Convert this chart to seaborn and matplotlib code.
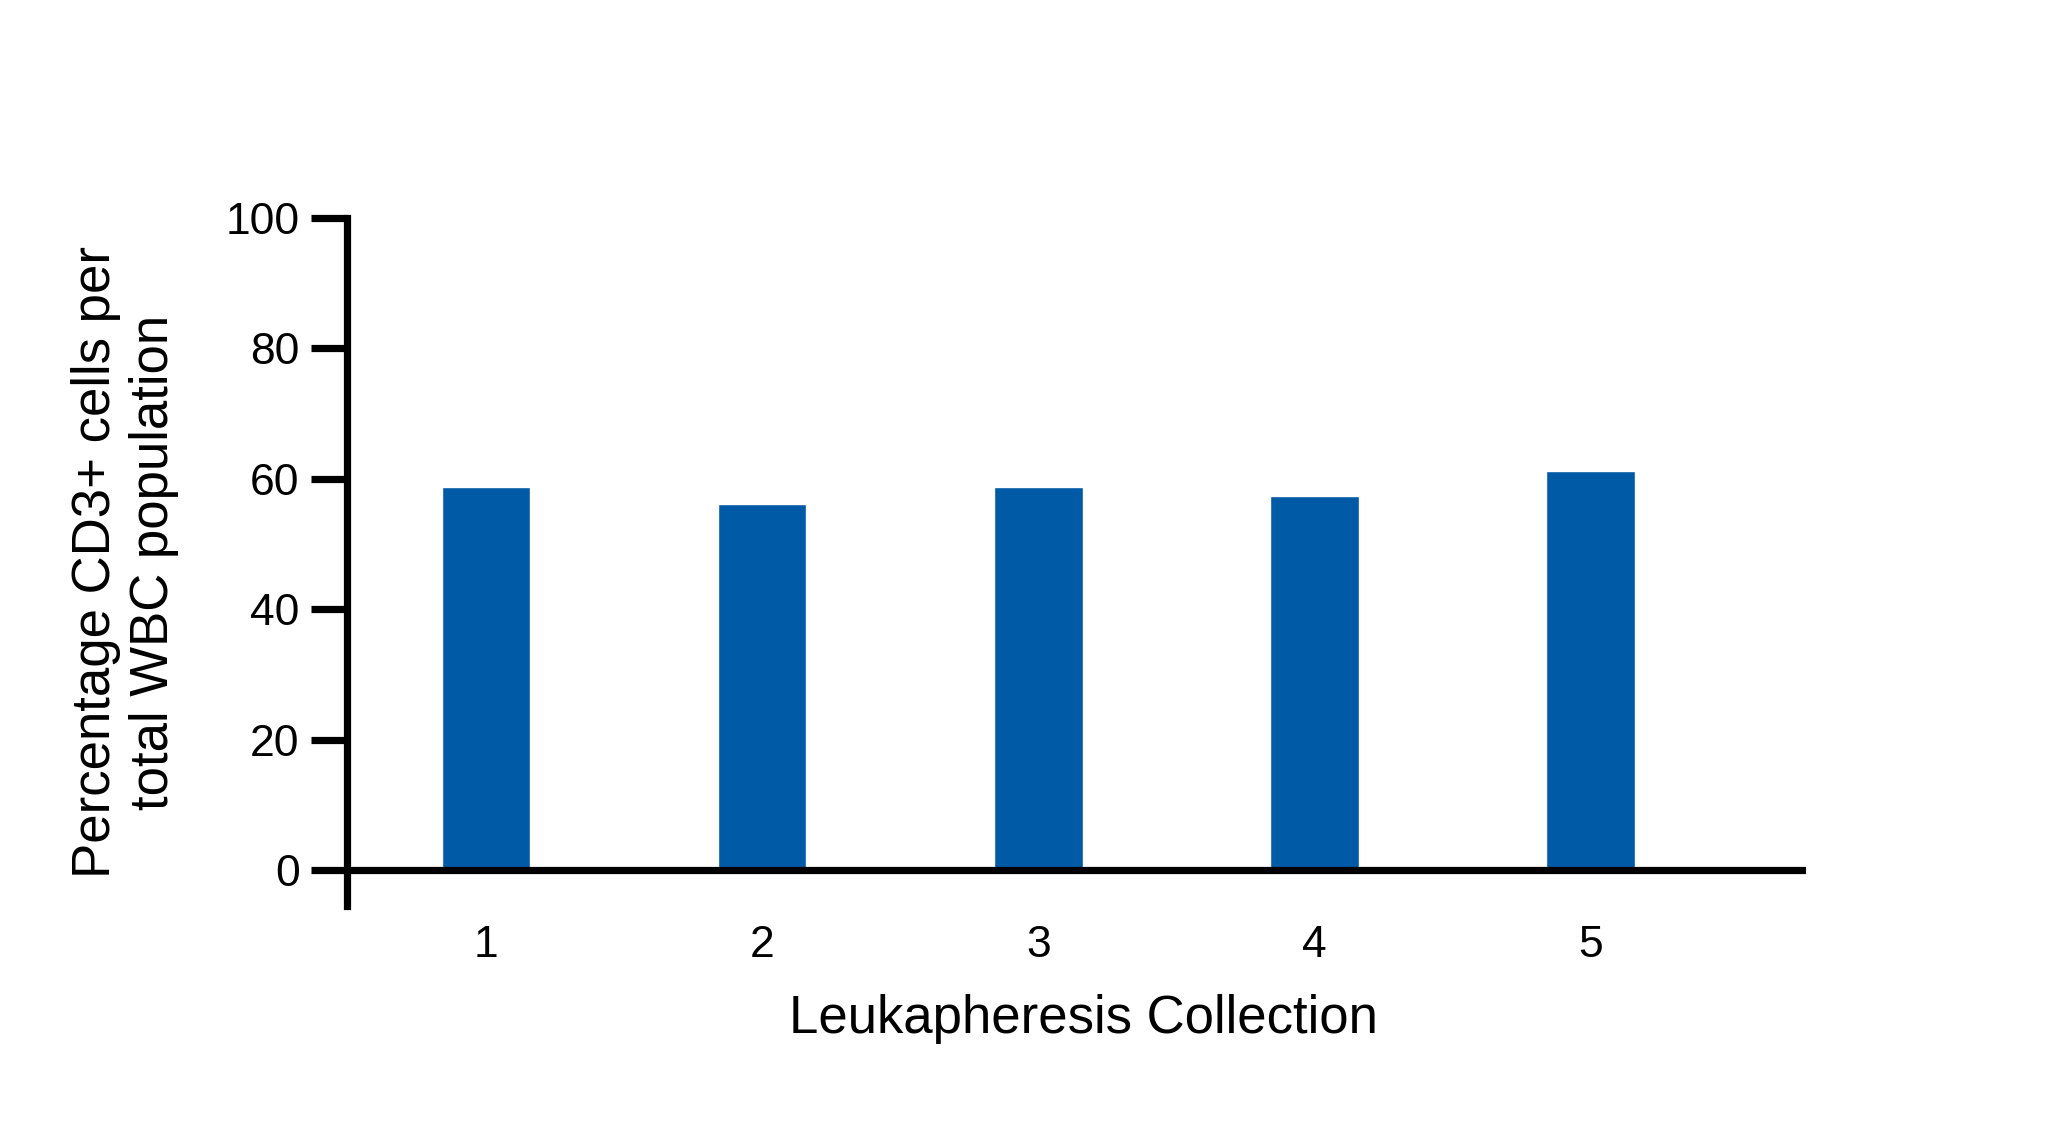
import matplotlib
matplotlib.use("Agg")
import matplotlib.pyplot as plt
import seaborn as sns
import pandas as pd

# data
collections = ["1", "2", "3", "4", "5"]
pct_cd3 = [58.7, 56.1, 58.7, 57.4, 61.2]
yticks = [0, 20, 40, 60, 80, 100]

bar_color = "#005AA6"

sns.set_style("white")
plt.rcParams["font.family"] = ["Liberation Sans", "DejaVu Sans"]
plt.rcParams["text.color"] = "black"
plt.rcParams["axes.labelcolor"] = "black"
plt.rcParams["xtick.color"] = "black"
plt.rcParams["ytick.color"] = "black"

df = pd.DataFrame({"collection": collections, "pct": pct_cd3})

fig = plt.figure(figsize=(20.48, 11.22), dpi=100)
ax = fig.add_axes([0.1694, 0.1925, 0.7124, 0.6132])

sns.barplot(data=df, x="collection", y="pct", color=bar_color, width=0.32,
            saturation=1, ax=ax)

ax.set_xlim(-0.504, 4.78)
ax.set_ylim(-5.5, 100)
ax.set_yticks(yticks)

lw = 5.2
for s in ["top", "right", "bottom"]:
    ax.spines[s].set_visible(False)
ax.spines["left"].set_linewidth(lw)
ax.spines["left"].set_color("black")
ax.axhline(0, color="black", lw=lw, zorder=5)

ax.tick_params(axis="y", left=True, length=26, width=lw, color="black",
               labelsize=32, pad=8, labelcolor="black")
ax.tick_params(axis="x", length=0, labelsize=32, pad=14, labelcolor="black")

ax.set_xlabel("Leukapheresis Collection", fontsize=38, color="black")
ax.set_ylabel("Percentage CD3+ cells per\ntotal WBC population", fontsize=38,
              color="black")
ax.xaxis.set_label_coords(0.505, -0.128)
ax.xaxis.label.set_va("top")
ax.yaxis.set_label_coords(-0.115, 0.5)

fig.savefig("out.png", dpi=100)
